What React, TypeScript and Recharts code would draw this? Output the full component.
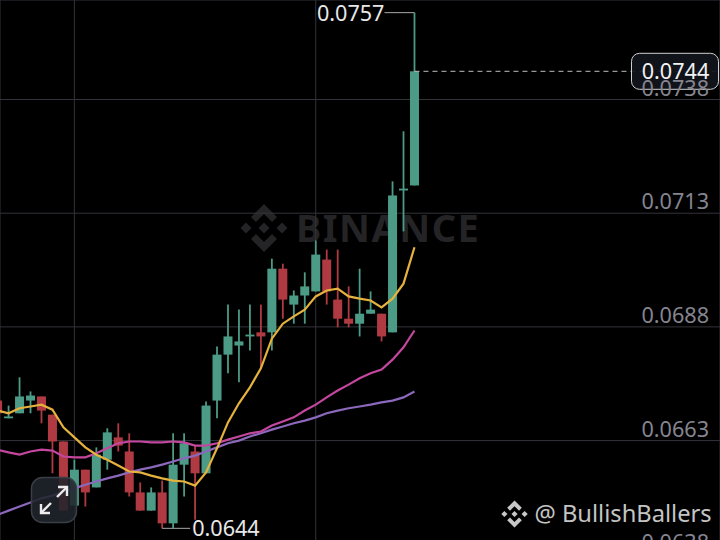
import React from "react"
import { CartesianGrid, ComposedChart, Bar, Line, ReferenceLine, XAxis, YAxis } from "recharts"

const opens = [.06718, .06679, .0669, .06718, .06727, .06687, .06628, .06487, .06566, .06527, .06588, .06637, .06606, .06516, .06476, .06516, .06448, .06577, .06606, .06558, .06718, .06819, .06839, .06859, .06868, .06868, .07008, .06929, .06949, .06958, .07028, .0694, .06898, .06887, .06909, .06909, .06868, .0718, .07191]
const highs = [.06718, .06707, .06769, .06738, .06727, .06687, .06628, .06588, .06566, .06615, .06657, .06668, .06646, .06538, .06527, .06542, .06646, .06646, .06619, .06716, .06837, .06929, .06918, .06929, .06929, .0703, .07019, .0696, .07, .0707, .0705, .0705, .06969, .07008, .06958, .06909, .072, .0731, .07571]
const lows = [.0669, .06679, .0669, .0669, .06668, .06558, .06476, .06487, .06485, .06527, .06566, .06606, .06507, .06476, .06476, .06437, .06437, .06507, .06456, .06558, .06679, .06778, .06758, .06828, .06791, .06828, .06898, .06887, .06887, .06958, .06929, .06879, .06879, .06859, .06909, .06848, .06868, .0709, .07191]
const closes = [.0669, .06683, .06727, .06729, .06696, .06628, .06476, .06566, .06516, .06599, .06648, .06619, .06516, .06476, .06516, .06448, .06577, .06624, .06558, .06707, .06819, .06859, .06848, .06863, .06859, .07008, .0694, .06949, .06969, .07039, .06958, .06898, .06887, .06909, .06918, .06859, .07169, .07184, .07442]
const maFast = [.06696, .0669, .06701, .06705, .06709, .06698, .06659, .06637, .06615, .06599, .06588, .06575, .06562, .0656, .06553, .06547, .06542, .0654, .06531, .0656, .06613, .0667, .06712, .06747, .06789, .06854, .06887, .06903, .06918, .06947, .0696, .06964, .06947, .06942, .06938, .06923, .06942, .06975, .07055]
const maMid = [.0661, .06604, .06599, .06606, .0661, .06608, .06595, .06593, .06593, .06602, .06613, .06624, .06628, .06628, .06626, .06626, .06628, .06626, .06619, .06619, .06624, .06632, .06639, .06646, .0665, .06663, .06672, .06681, .06696, .06709, .06725, .0674, .06753, .06767, .06778, .06786, .06808, .06835, .06872]
const maSlow = [.06467, .06476, .06485, .06494, .06503, .06509, .06518, .06525, .06533, .0654, .06547, .06553, .0656, .06566, .06571, .06577, .06584, .06591, .06597, .06606, .06615, .06624, .0663, .06639, .06646, .06654, .06661, .06668, .06674, .06681, .0669, .06696, .06701, .06705, .06709, .06714, .06718, .06725, .06738]
const priceTicks = [0.0738, 0.0713, 0.0688, 0.0663, 0.0638]
const timeTicks = [7, 29]

const data = opens.map((open, i) => ({
  i,
  open,
  high: highs[i],
  low: lows[i],
  close: closes[i],
  maFast: maFast[i],
  maMid: maMid[i],
  maSlow: maSlow[i],
}))

const UP = "#4c9b87"
const DOWN = "#b03a42"
const GRID = "#33333a"
const FONT = "'Noto Sans', sans-serif"
const LABEL_SIZE = 21.6
const highIndex = highs.indexOf(Math.max(...highs))
const lowIndex = lows.indexOf(Math.min(...lows))
const lastIndex = closes.length - 1

function Candle(props: any) {
  const { x, y, width, height, payload } = props
  const perPrice = height / (payload.high - payload.low)
  const yOf = (p: number) => y + (payload.high - p) * perPrice
  const top = yOf(Math.max(payload.open, payload.close))
  const bottom = yOf(Math.min(payload.open, payload.close))
  const color = payload.close >= payload.open ? UP : DOWN
  const cx = x + width / 2
  return (
    <g>
      <line x1={cx} x2={cx} y1={y} y2={y + height} stroke={color} strokeWidth={1.8} />
      <rect x={x} y={top} width={width} height={Math.max(bottom - top, 1.5)} fill={color} />
      {payload.i === highIndex && (
        <g>
          <polyline points={`${cx - 30},${y} ${cx},${y}`} fill="none" stroke="#a8a8a8" strokeWidth={1} />
          <text x={cx - 30} y={y + 8} textAnchor="end" fill="#e8e8e8" fontSize={LABEL_SIZE} fontFamily={FONT}>{payload.high.toFixed(4)}</text>
        </g>
      )}
      {payload.i === lowIndex && (
        <g>
          <polyline points={`${cx},${y + height} ${cx + 28},${y + height}`} fill="none" stroke="#a8a8a8" strokeWidth={1} />
          <text x={cx + 30} y={y + height + 8} fill="#e8e8e8" fontSize={LABEL_SIZE} fontFamily={FONT}>{payload.low.toFixed(4)}</text>
        </g>
      )}
    </g>
  )
}

function PriceTick(props: any) {
  const { y, payload } = props
  return (
    <text x={709} y={y - 4} textAnchor="end" fill="#85858f" fontSize={LABEL_SIZE} fontFamily={FONT}>
      {payload.value.toFixed(4)}
    </text>
  )
}

function PricePill(props: any) {
  const y = props.viewBox.y
  return (
    <g>
      <rect x={631.5} y={y - 18} width={87} height={36} rx={8} fill="#12151c" fillOpacity={0.92} stroke="#d0d0d0" strokeWidth={1} />
      <text x={675.5} y={y + 8} textAnchor="middle" fill="#f2f2f2" fontSize={LABEL_SIZE} fontFamily={FONT}>
        {closes[lastIndex].toFixed(4)}
      </text>
    </g>
  )
}

function BinanceMark({ cx, cy, r, fill }: { cx: number; cy: number; r: number; fill: string }) {
  const u = r / 24
  const pts = (list: number[][]) => list.map(([a, b]) => `${cx + a * u},${cy + b * u}`).join(" ")
  return (
    <g fill={fill}>
      <polygon points={pts([[0, -5.5], [5.5, 0], [0, 5.5], [-5.5, 0]])} />
      <polygon points={pts([[0, -24], [13, -11], [8, -6], [0, -14], [-8, -6], [-13, -11]])} />
      <polygon points={pts([[0, 24], [13, 11], [8, 6], [0, 14], [-8, 6], [-13, 11]])} />
      <polygon points={pts([[-18, -5.5], [-12.5, 0], [-18, 5.5], [-23.5, 0]])} />
      <polygon points={pts([[18, -5.5], [23.5, 0], [18, 5.5], [12.5, 0]])} />
    </g>
  )
}

export default function App() {
  return (
    <div style={{ position: "absolute", left: 0, top: 0, width: 720, height: 540, background: "#000", overflow: "hidden" }}>
      <svg width={720} height={540} style={{ position: "absolute", left: 0, top: 0 }}>
        <BinanceMark cx={264} cy={228} r={24} fill="#242426" />
        <text x={296} y={242} fill="#242426" fontSize={38} fontWeight={700} letterSpacing={1.5} fontFamily={FONT}>BINANCE</text>
      </svg>
      <div style={{ position: "absolute", left: 0, top: 0 }}>
        <ComposedChart width={720} height={570} data={data} margin={{ top: 0, right: 0, bottom: 0, left: 0 }}>
          <CartesianGrid stroke={GRID} strokeWidth={1} />
          <XAxis type="number" dataKey="i" domain={[0.22, 65.85]} ticks={timeTicks} allowDataOverflow hide />
          <YAxis
            orientation="right"
            mirror
            width={60}
            domain={[0.063454, 0.075988]}
            ticks={priceTicks}
            axisLine={false}
            tickLine={false}
            interval={0}
            tick={<PriceTick />}
          />
          <Bar dataKey={(d: any) => [d.low, d.high]} barSize={9} shape={<Candle />} isAnimationActive={false} />
          <Line dataKey="maSlow" stroke="#8b68bc" strokeWidth={2.2} dot={false} isAnimationActive={false} />
          <Line dataKey="maMid" stroke="#c4479f" strokeWidth={2.2} dot={false} isAnimationActive={false} />
          <Line dataKey="maFast" stroke="#e6b23e" strokeWidth={2.2} dot={false} isAnimationActive={false} />
          <ReferenceLine
            segment={[{ x: lastIndex, y: closes[lastIndex] }, { x: 65.85, y: closes[lastIndex] }]}
            stroke="#bdbdbd"
            strokeDasharray="5 4"
            strokeWidth={1}
            label={<PricePill />}
          />
        </ComposedChart>
      </div>
      <svg width={720} height={540} style={{ position: "absolute", left: 0, top: 0 }}>
        <rect x={31.5} y={477.5} width={45} height={45} rx={11} fill="#20242c" fillOpacity={0.88} stroke="#3a3e47" strokeWidth={1.5} />
        <g stroke="#ececec" strokeWidth={2.4} fill="none">
          <path d="M57 497 L67 487" />
          <path d="M58 487 L67 487 L67 496" />
          <path d="M51 503 L41 513" />
          <path d="M41 504 L41 513 L50 513" />
        </g>
        <BinanceMark cx={514.5} cy={514} r={13.5} fill="#c8c8c8" />
        <text x={534.5} y={522} fill="#c4c4c4" fontSize={23.7} fontFamily={FONT}>@ BullishBallers</text>
      </svg>
    </div>
  )
}
